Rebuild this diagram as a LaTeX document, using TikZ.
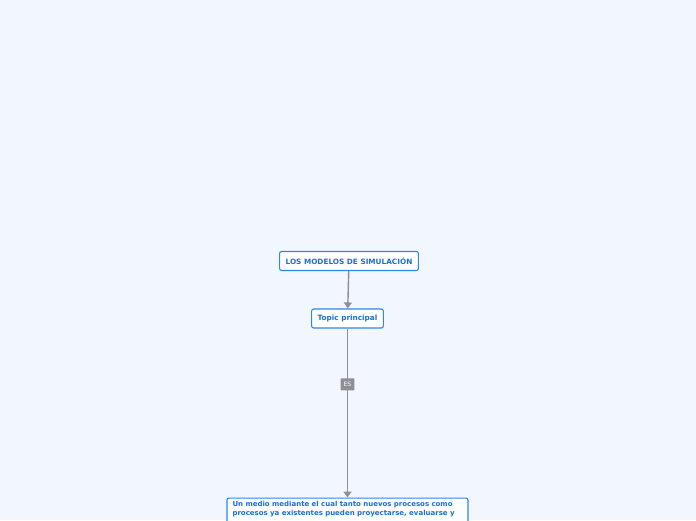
\documentclass[tikz,border=0pt]{standalone}
\usepackage{fontspec}
\setmainfont{DejaVu Sans}
\usetikzlibrary{positioning,arrows.meta}
\definecolor{bgcol}{HTML}{F2F6FE}
\definecolor{topicblue}{HTML}{2A88E6}
\definecolor{topictext}{HTML}{1A6FD6}
\definecolor{linkgray}{HTML}{8E8E96}
\tikzset{
  topic/.style={draw=topicblue,line width=1.1pt,fill=white,rounded corners=2pt,
    font=\fontsize{7.3}{9}\selectfont\bfseries,text=topictext,inner xsep=6pt,inner ysep=0pt,
    minimum height=19pt},
  link/.style={draw=linkgray,line width=1.4pt,-{Triangle[length=6pt,width=8pt]}},
  linklabel/.style={fill=linkgray,text=white,font=\fontsize{6}{7}\selectfont,
    inner xsep=3pt,inner ysep=0pt,minimum height=12pt,rounded corners=0.5pt}
}
\begin{document}
\begin{tikzpicture}[x=1pt,y=-1pt]
\useasboundingbox[fill=bgcol] (0,0) rectangle (696,520);
\node[topic] (modelos) at (349,261) {LOS MODELOS DE SIMULACIÓN};
\node[topic] (principal) at (347.5,318.5) {Topic principal};
\node[topic,anchor=north,align=left,text width=230pt,minimum height=0pt,
  font=\fontsize{7}{9}\selectfont\bfseries,
  inner xsep=5.5pt,inner ysep=3.5pt] (medio) at (347.5,497.5)
  {Un medio mediante el cual tanto nuevos procesos como\\procesos ya existentes pueden proyectarse, evaluarse y\rule[-10pt]{0pt}{0pt}};
% links
\draw[link] (modelos) -- (principal);
\draw[link] (principal) -- (medio) node[linklabel,pos=0.33] (es) {ES};
\end{tikzpicture}
\end{document}
